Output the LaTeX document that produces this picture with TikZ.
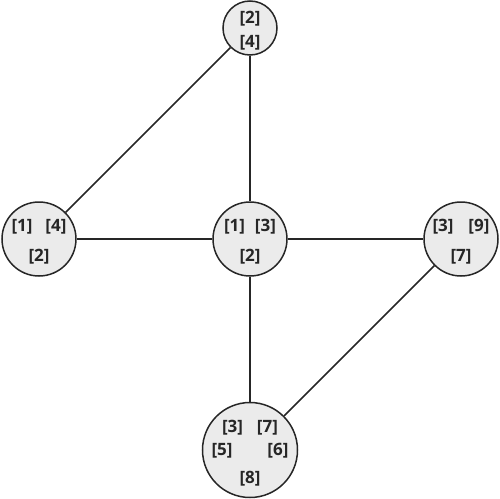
\documentclass[tikz,border=0pt]{standalone}
\usepackage{fontspec}
\setmainfont{Open Sans}
\usetikzlibrary{arrows,positioning}
\tikzset{
part/.style={
	% The shape:
	circle,
	% The border:
	line width=1.5pt,
	draw=black!85,
	% The filling:
	fill=black!8,
	inner sep=0pt
},
% the numbers set in the middle of a part
part text/.style={
	align=center,
	inner sep=0pt,
	yshift=-3pt,
	text=black!85,
	font=\bfseries\fontsize{17}{20}\selectfont
},
small part/.style={part,minimum size=54pt},
mid part/.style={part,minimum size=74pt},
big part/.style={part,minimum size=95pt}
}

\begin{document}
\begin{tikzpicture}[node distance=211pt,line width=1.5pt]
			\useasboundingbox (-250pt,-259pt) rectangle (250pt,239pt);
			\node[mid part,label={[part text]center:{[1]\hspace{10pt}[3]\\[10pt][2]}}] (mid) {};
			\node[small part,label={[part text]center:{[2]\\[4pt][4]}}] (top)[above of=mid] {};
			\node[mid part,label={[part text]center:{[1]\hspace{13pt}[4]\\[10pt][2]}}] (left)[left of=mid] {};
			\node[mid part,label={[part text]center:{[3]\hspace{15pt}[9]\\[10pt][7]}}] (right)[right of=mid] {};
			\node[big part,label={[part text]center:{[3]\hspace{14pt}[7]\\[3pt][5]\hspace{35pt}[6]\\[8pt][8]}}] (bottom)[below of=mid] {};

			\path[draw=black!85]
				(top)   edge (left)
				(top)   edge (mid)
				(left)  edge (mid)
				(mid)   edge (right)
				(mid)   edge (bottom)
				(right) edge (bottom);
		\end{tikzpicture}
\end{document}
